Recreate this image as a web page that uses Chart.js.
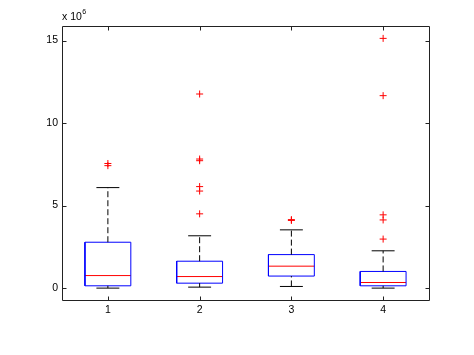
<!DOCTYPE html>
<html>
<head>
<meta charset="utf-8">
<script src="https://cdn.jsdelivr.net/npm/chart.js@4.4.1/dist/chart.umd.min.js"></script>
<style>
html,body{margin:0;padding:0;background:#fff;}
canvas{display:block;}
</style>
</head>
<body>
<canvas id="c" width="474" height="355"></canvas>
<script>
// Data (values in units of 1e6)
const categories = ['1', '2', '3', '4'];
const whiskerLow = [0.00, 0.06, 0.10, 0.00];
const q1 = [0.14, 0.30, 0.73, 0.14];
const medians = [0.76, 0.70, 1.33, 0.34];
const q3 = [2.78, 1.63, 2.03, 1.01];
const whiskerHigh = [6.09, 3.17, 3.53, 2.26];
const outliers1 = [7.55, 7.42];
const outliers2 = [11.76, 7.82, 7.72, 6.15, 5.88, 4.50];
const outliers3 = [4.15, 4.10];
const outliers4 = [15.13, 11.66, 4.44, 4.13, 2.97];
const yTicks = [0, 5, 10, 15];
const exponentLabel = ['x 10', '6'];

const outliers = [outliers1, outliers2, outliers3, outliers4];
const BOX_HALF = 0.25, CAP_HALF = 0.125;
const BLUE = '#0000ff', RED = '#ff0000', BLACK = '#000000';

function gap(x) { return {x: x, y: null}; }

const boxPts = [], medPts = [], whiskPts = [], capPts = [], outPts = [];
categories.forEach((c, k) => {
  const i = k + 1;
  boxPts.push({x: i - BOX_HALF, y: q1[k]}, {x: i + BOX_HALF, y: q1[k]},
              {x: i + BOX_HALF, y: q3[k]}, {x: i - BOX_HALF, y: q3[k]},
              {x: i - BOX_HALF, y: q1[k]}, gap(i));
  medPts.push({x: i - BOX_HALF, y: medians[k]}, {x: i + BOX_HALF, y: medians[k]}, gap(i));
  whiskPts.push({x: i, y: q3[k]}, {x: i, y: whiskerHigh[k]}, gap(i),
                {x: i, y: whiskerLow[k]}, {x: i, y: q1[k]}, gap(i));
  capPts.push({x: i - CAP_HALF, y: whiskerHigh[k]}, {x: i + CAP_HALF, y: whiskerHigh[k]}, gap(i),
              {x: i - CAP_HALF, y: whiskerLow[k]}, {x: i + CAP_HALF, y: whiskerLow[k]}, gap(i));
  outliers[k].forEach(v => outPts.push({x: i, y: v}));
});

const lineDs = (data, color, dash) => ({
  type: 'line', data: data, borderColor: color, borderWidth: 1,
  borderDash: dash || [], pointRadius: 0, fill: false, spanGaps: false, tension: 0
});

const FONT = {family: '"Liberation Sans", Arial, Helvetica, sans-serif', size: 10.5};

const framePlugin = {
  id: 'frame',
  afterDraw(chart) {
    const ctx = chart.ctx, a = chart.chartArea;
    const xs = chart.scales.x, ys = chart.scales.y;
    const L = Math.round(a.left) + 0.5, R = Math.round(a.right) + 0.5;
    const T = Math.round(a.top) + 0.5, B = Math.round(a.bottom) + 0.5;
    ctx.save();
    ctx.strokeStyle = '#222';
    ctx.lineWidth = 1;
    ctx.beginPath();
    ctx.rect(L, T, R - L, B - T);
    const tl = 4;
    yTicks.forEach(v => {
      const p = Math.round(ys.getPixelForValue(v)) + 0.5;
      ctx.moveTo(L, p); ctx.lineTo(L + tl, p);
      ctx.moveTo(R, p); ctx.lineTo(R - tl, p);
    });
    categories.forEach((c, k) => {
      const p = Math.round(xs.getPixelForValue(k + 1)) + 0.5;
      ctx.moveTo(p, B); ctx.lineTo(p, B - tl);
      ctx.moveTo(p, T); ctx.lineTo(p, T + tl);
    });
    ctx.stroke();
    // exponent label
    ctx.fillStyle = '#000';
    ctx.textBaseline = 'alphabetic';
    ctx.textAlign = 'left';
    ctx.font = '10.5px "Liberation Sans", Arial, sans-serif';
    ctx.fillText(exponentLabel[0], a.left, a.top - 6);
    const w = ctx.measureText(exponentLabel[0]).width;
    ctx.font = '7px "Liberation Sans", Arial, sans-serif';
    ctx.fillText(exponentLabel[1], a.left + w + 0.5, a.top - 12);
    ctx.restore();
  }
};

new Chart(document.getElementById('c'), {
  type: 'scatter',
  data: {
    datasets: [
      lineDs(whiskPts, BLACK, [6, 3]),
      lineDs(capPts, BLACK),
      lineDs(boxPts, BLUE),
      lineDs(medPts, RED),
      {type: 'scatter', data: outPts, pointStyle: 'cross', pointRadius: 3.5,
       borderColor: RED, backgroundColor: RED, borderWidth: 1, pointHoverRadius: 3.5}
    ]
  },
  options: {
    responsive: false,
    animation: false,
    events: [],
    layout: {padding: {top: 26, right: 45, left: 0, bottom: 0}},
    plugins: {legend: {display: false}, tooltip: {enabled: false}},
    scales: {
      x: {
        type: 'linear', min: 0.5, max: 4.5,
        grid: {display: false, drawTicks: false},
        border: {display: false},
        afterBuildTicks: s => { s.ticks = categories.map((c, k) => ({value: k + 1})); },
        afterFit: s => { s.height = 55; },
        ticks: {color: '#000', font: FONT, padding: 4, maxRotation: 0,
                callback: v => categories[v - 1]}
      },
      y: {
        type: 'linear', min: -0.72, max: 15.88,
        grid: {display: false, drawTicks: false},
        border: {display: false},
        afterBuildTicks: s => { s.ticks = yTicks.map(v => ({value: v})); },
        afterFit: s => { s.width = 62; },
        ticks: {color: '#000', font: FONT, padding: 4}
      }
    }
  },
  plugins: [framePlugin]
});
</script>
</body>
</html>
